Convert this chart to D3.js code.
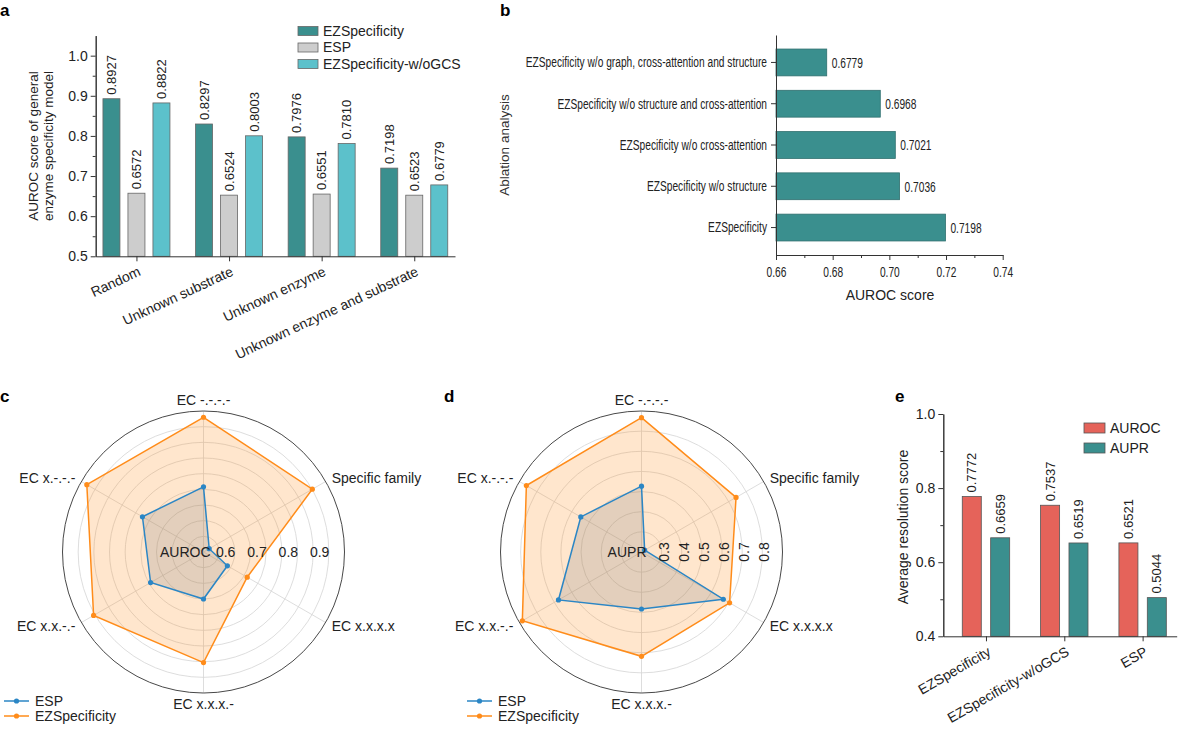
<!DOCTYPE html>
<html>
<head>
<meta charset="utf-8">
<script src="https://cdn.jsdelivr.net/npm/d3@7"></script>
<style>
  body { margin: 0; background: #fff; }
  svg text { font-family: "Liberation Sans", Arial, sans-serif; fill: #222; }
  .axis path, .axis line { stroke: #333; }
</style>
</head>
<body>
<script>
// panel a
const groupsA = ["Random", "Unknown substrate", "Unknown enzyme", "Unknown enzyme and substrate"];
const seriesA = ["EZSpecificity", "ESP", "EZSpecificity-w/oGCS"];
const ezA = [0.8927, 0.8297, 0.7976, 0.7198];
const espA = [0.6572, 0.6524, 0.6551, 0.6523];
const wogcsA = [0.8822, 0.8003, 0.7810, 0.6779];
const ticksA = [0.5, 0.6, 0.7, 0.8, 0.9, 1.0];
const minorA = [0.55, 0.65, 0.75, 0.85, 0.95];

// panel b
const ablationLabels = [
  "EZSpecificity w/o graph, cross-attention and structure",
  "EZSpecificity w/o structure and cross-attention",
  "EZSpecificity w/o cross-attention",
  "EZSpecificity w/o structure",
  "EZSpecificity"
];
const ablationValues = [0.6779, 0.6968, 0.7021, 0.7036, 0.7198];
const ticksB = [0.66, 0.68, 0.70, 0.72, 0.74];
const minorB = [0.67, 0.69, 0.71, 0.73];

// panels c, d
const radarAxes = ["EC -.-.-.-", "Specific family", "EC x.x.x.x", "EC x.x.x.-", "EC x.x.-.-", "EC x.-.-.-"];
const aurocEsp = [0.758, 0.571, 0.638, 0.700, 0.745, 0.775];
const aurocEz = [0.980, 0.951, 0.711, 0.903, 0.955, 0.980];
const auprEsp = [0.527, 0.218, 0.669, 0.483, 0.676, 0.548];
const auprEz = [0.867, 0.742, 0.705, 0.718, 0.883, 0.860];
const aurocGrid = [0.6, 0.65, 0.7, 0.75, 0.8, 0.85, 0.9, 0.95];
const aurocTicks = [0.6, 0.7, 0.8, 0.9];
const auprGrid = [0.3, 0.4, 0.5, 0.6, 0.7, 0.8];
const auprTicks = [0.3, 0.4, 0.5, 0.6, 0.7, 0.8];

// panel e
const groupsE = ["EZSpecificity", "EZSpecificity-w/oGCS", "ESP"];
const seriesE = ["AUROC", "AUPR"];
const aurocE = [0.7772, 0.7537, 0.6521];
const auprE = [0.6659, 0.6519, 0.5044];
const ticksE = [0.4, 0.6, 0.8, 1.0];
const minorE = [0.5, 0.7, 0.9];

const teal = "#3a8f8e", gray = "#cdcdcd", cyan = "#5cc1cb", red = "#e5635a";
const orange = "#ff8c1a", blue = "#2b86c5";
const squeeze = 0.68; // condensed look of panel b text

const svg = d3.select("body").append("svg").attr("width", 1200).attr("height", 735);

function letter(t, x, y) {
  svg.append("text").attr("x", x).attr("y", y).text(t)
    .style("font-weight", "bold").style("font-size", "17px").style("fill", "#000");
}
letter("a", 0, 16); letter("b", 500, 16); letter("c", 0, 402); letter("d", 444, 402); letter("e", 895, 402);

function styleAxis(g, size) {
  g.attr("class", "axis");
  g.selectAll("text").style("font-size", size || "14px").style("fill", "#222");
  g.selectAll("path").attr("stroke-width", 1);
  return g;
}

// ---------- a ----------
var xA = d3.scalePoint().domain(groupsA).range([95.7, 455]).padding(0.44);
var inA = d3.scaleBand().domain(seriesA).range([-37.5, 37.5]).paddingInner(0.32).paddingOuter(0.16);
var yA = d3.scaleLinear().domain([0.5, 1.05]).range([256.3, 35.6]);
var colA = d3.scaleOrdinal().domain(seriesA).range([teal, gray, cyan]);
var valsA = [ezA, espA, wogcsA];
var rowsA = groupsA.flatMap((g, i) => seriesA.map((s, j) => ({g: g, s: s, v: valsA[j][i]})));

var gA = svg.append("g");
gA.selectAll("rect").data(rowsA).enter().append("rect")
  .attr("x", d => xA(d.g) + inA(d.s))
  .attr("width", inA.bandwidth())
  .attr("y", d => yA(d.v))
  .attr("height", d => yA(0.5) - yA(d.v))
  .attr("fill", d => colA(d.s))
  .attr("stroke", "#666").attr("stroke-width", 0.8);

gA.selectAll(".val").data(rowsA).enter().append("text")
  .attr("transform", d => "translate(" + (xA(d.g) + inA(d.s) + inA.bandwidth() / 2) + "," + (yA(d.v) - 4) + ") rotate(-90)")
  .attr("dy", "0.35em").style("font-size", "13px")
  .text(d => d.v.toFixed(4));

styleAxis(gA.append("g").attr("transform", "translate(95.7,0)")
  .call(d3.axisLeft(yA).tickValues(ticksA).tickFormat(d3.format(".1f")).tickSize(5).tickSizeOuter(0)));
styleAxis(gA.append("g").attr("transform", "translate(95.7,0)")
  .call(d3.axisLeft(yA).tickValues(minorA).tickFormat("").tickSize(3).tickSizeOuter(0)));
styleAxis(gA.append("g").attr("transform", "translate(0," + yA(0.5) + ")")
  .call(d3.axisBottom(xA).tickFormat("").tickSize(5).tickSizeOuter(0)));

gA.selectAll(".xl").data(groupsA).enter().append("text")
  .attr("transform", d => "translate(" + (xA(d) + 1) + ",266) rotate(-25)")
  .attr("text-anchor", "end").attr("dy", "0.7em").style("font-size", "14px").text(d => d);

gA.append("text").attr("transform", "translate(38,146) rotate(-90)")
  .attr("text-anchor", "middle").style("font-size", "13.5px").text("AUROC score of general");
gA.append("text").attr("transform", "translate(53,146) rotate(-90)")
  .attr("text-anchor", "middle").style("font-size", "13.5px").text("enzyme specificity model");

var legA = gA.selectAll(".leg").data(seriesA).enter().append("g")
  .attr("transform", (d, i) => "translate(298," + (31 + i * 16.5) + ")");
legA.append("rect").attr("x", 0).attr("y", -4.5).attr("width", 20).attr("height", 9)
  .attr("fill", d => colA(d)).attr("stroke", "#666").attr("stroke-width", 0.8);
legA.append("text").attr("x", 25).attr("dy", "0.35em").style("font-size", "14px").text(d => d);

// ---------- b ----------
var xB = d3.scaleLinear().domain([0.66, 0.74]).range([776, 1002.7]);
var yB = d3.scaleBand().domain(ablationLabels).range([35, 255]).paddingInner(0.35).paddingOuter(0.34);
var gB = svg.append("g");
gB.selectAll("rect").data(ablationValues).enter().append("rect")
  .attr("x", xB(0.66))
  .attr("y", (d, i) => yB(ablationLabels[i]))
  .attr("height", yB.bandwidth())
  .attr("width", d => xB(d) - xB(0.66))
  .attr("fill", teal).attr("stroke", "#2f6f6e").attr("stroke-width", 0.8);
gB.selectAll(".val").data(ablationValues).enter().append("text")
  .attr("transform", (d, i) => "translate(" + (xB(d) + 5) + "," + (yB(ablationLabels[i]) + yB.bandwidth() / 2) + ") scale(" + squeeze + ",1)")
  .attr("dy", "0.35em").style("font-size", "15px").text(d => d.toFixed(4));

var ayB = gB.append("g").attr("transform", "translate(776,0)")
  .call(d3.axisLeft(yB).tickSize(5).tickPadding(4).tickSizeOuter(0));
styleAxis(ayB, "15px");
ayB.selectAll("text").attr("x", -9 / squeeze).attr("transform", "scale(" + squeeze + ",1)");
var axB = gB.append("g").attr("transform", "translate(0,255)")
  .call(d3.axisBottom(xB).tickValues(ticksB).tickFormat(d3.format(".2f")).tickSize(5).tickPadding(6).tickSizeOuter(0));
styleAxis(axB, "15px");
axB.selectAll("text").attr("transform", "scale(" + squeeze + ",1)");
styleAxis(gB.append("g").attr("transform", "translate(0,255)")
  .call(d3.axisBottom(xB).tickValues(minorB).tickFormat("").tickSize(3).tickSizeOuter(0)));
gB.append("text").attr("x", 890).attr("y", 300).attr("text-anchor", "middle")
  .style("font-size", "14px").text("AUROC score");
gB.append("text").attr("transform", "translate(509,145) rotate(-90)").attr("text-anchor", "middle")
  .style("font-size", "13.5px").style("fill", "#333").text("Ablation analysis");

// ---------- c, d ----------
function radar(cx, cy, domain, grid, ticks, esp, ez, name, rotateTicks) {
  var R = 141;
  var r = d3.scaleLinear().domain(domain).range([0, R]);
  var ang = d3.scalePoint().domain(radarAxes).range([0, 2 * Math.PI * 5 / 6]);
  var g = svg.append("g").attr("transform", "translate(" + cx + "," + cy + ")");

  g.selectAll(".grid").data(grid).enter().append("circle")
    .attr("r", d => r(d)).attr("fill", "none").attr("stroke", "#d4d4d4").attr("stroke-width", 0.8);
  g.selectAll(".spoke").data(radarAxes).enter().append("line")
    .attr("x2", d => R * Math.sin(ang(d))).attr("y2", d => -R * Math.cos(ang(d)))
    .attr("stroke", "#d4d4d4").attr("stroke-width", 0.8);
  g.append("circle").attr("r", r(domain[1])).attr("fill", "none").attr("stroke", "#333").attr("stroke-width", 0.9);

  var line = d3.lineRadial().angle((d, i) => ang(radarAxes[i])).radius(d => r(d)).curve(d3.curveLinearClosed);
  g.append("path").attr("d", line(ez)).attr("fill", orange).attr("fill-opacity", 0.22).attr("stroke", "none");
  g.append("path").attr("d", line(esp)).attr("fill", "#7f7f7f").attr("fill-opacity", 0.22).attr("stroke", "none");

  [[ez, orange], [esp, blue]].forEach(function(p) {
    g.append("path").attr("d", line(p[0])).attr("fill", "none").attr("stroke", p[1]).attr("stroke-width", 1.5);
    g.selectAll(null).data(p[0]).enter().append("circle")
      .attr("cx", (d, i) => r(d) * Math.sin(ang(radarAxes[i])))
      .attr("cy", (d, i) => -r(d) * Math.cos(ang(radarAxes[i])))
      .attr("r", 2.6).attr("fill", p[1]);
  });

  if (rotateTicks) {
    g.selectAll(".tk").data(ticks).enter().append("text")
      .attr("transform", d => "translate(" + (r(d) + 2) + ",0) rotate(-90)")
      .attr("text-anchor", "middle").attr("dy", "0.35em").style("font-size", "14px")
      .text(d => d.toFixed(1));
  } else {
    g.selectAll(".tk").data(ticks).enter().append("text")
      .attr("x", d => r(d) + 6.5)
      .attr("text-anchor", "middle").attr("dy", "0.35em").style("font-size", "14px")
      .text(d => d.toFixed(1));
  }
  g.append("text").attr("x", rotateTicks ? 5 : 7).attr("text-anchor", "end").attr("dy", "0.35em")
    .style("font-size", "14px").text(name);

  g.selectAll(".al").data(radarAxes).enter().append("text")
    .attr("x", d => {
      var a = ang(d), s = Math.sin(a);
      return (Math.abs(s) < 0.01 ? 0 : 148 * s);
    })
    .attr("y", d => {
      var a = ang(d), c = Math.cos(a);
      return Math.abs(Math.sin(a)) < 0.01 ? -152 * c : -148 * c;
    })
    .attr("text-anchor", d => {
      var s = Math.sin(ang(d));
      return Math.abs(s) < 0.01 ? "middle" : (s > 0 ? "start" : "end");
    })
    .attr("dy", "0.35em").style("font-size", "14px").text(d => d);
  return g;
}
radar(203.5, 552, [0.55, 1.0], aurocGrid, aurocTicks, aurocEsp, aurocEz, "AUROC", false);
radar(641.5, 552, [0.2, 0.9], auprGrid, auprTicks, auprEsp, auprEz, "AUPR", true);

function radarLegend(x) {
  var lg = svg.selectAll(null).data([["ESP", blue], ["EZSpecificity", orange]]).enter().append("g")
    .attr("transform", (d, i) => "translate(" + x + "," + (701 + i * 15) + ")");
  lg.append("line").attr("x1", 0).attr("x2", 25).attr("stroke", d => d[1]).attr("stroke-width", 1.5);
  lg.append("circle").attr("cx", 12.5).attr("r", 2.6).attr("fill", d => d[1]);
  lg.append("text").attr("x", 31).attr("dy", "0.35em").style("font-size", "14px").text(d => d[0]);
}
radarLegend(4);
radarLegend(467);

// ---------- e ----------
var xE = d3.scalePoint().domain(groupsE).range([943.3, 1176.7]).padding(0.49).align(0.556);
var inE = d3.scaleBand().domain(seriesE).range([-23.7, 23.7]).paddingInner(0.33);
var yE = d3.scaleLinear().domain([0.4, 1.0]).range([636.3, 414]);
var colE = d3.scaleOrdinal().domain(seriesE).range([red, teal]);
var valsE = [aurocE, auprE];
var rowsE = groupsE.flatMap((g, i) => seriesE.map((s, j) => ({g: g, s: s, v: valsE[j][i]})));
var gE = svg.append("g");
gE.selectAll("rect").data(rowsE).enter().append("rect")
  .attr("x", d => xE(d.g) + inE(d.s))
  .attr("width", inE.bandwidth())
  .attr("y", d => yE(d.v))
  .attr("height", d => yE(0.4) - yE(d.v))
  .attr("fill", d => colE(d.s)).attr("stroke", "#555").attr("stroke-width", 0.8);
gE.selectAll(".val").data(rowsE).enter().append("text")
  .attr("transform", d => "translate(" + (xE(d.g) + inE(d.s) + inE.bandwidth() / 2) + "," + (yE(d.v) - 4) + ") rotate(-90)")
  .attr("dy", "0.35em").style("font-size", "13px").text(d => d.v.toFixed(4));
styleAxis(gE.append("g").attr("transform", "translate(943.3,0)")
  .call(d3.axisLeft(yE).tickValues(ticksE).tickFormat(d3.format(".1f")).tickSize(5).tickSizeOuter(0)));
styleAxis(gE.append("g").attr("transform", "translate(943.3,0)")
  .call(d3.axisLeft(yE).tickValues(minorE).tickFormat("").tickSize(3).tickSizeOuter(0)));
styleAxis(gE.append("g").attr("transform", "translate(0," + yE(0.4) + ")")
  .call(d3.axisBottom(xE).tickFormat("").tickSize(5).tickSizeOuter(0)));
gE.selectAll(".xl").data(groupsE).enter().append("text")
  .attr("transform", d => "translate(" + (xE(d) + 1) + ",646) rotate(-30)")
  .attr("text-anchor", "end").attr("dy", "0.7em").style("font-size", "14px").text(d => d);
gE.append("text").attr("transform", "translate(908,527) rotate(-90)").attr("text-anchor", "middle")
  .style("font-size", "14px").text("Average resolution score");
var legE = gE.selectAll(".leg").data(seriesE).enter().append("g")
  .attr("transform", (d, i) => "translate(1084," + (428 + i * 20) + ")");
legE.append("rect").attr("y", -5).attr("width", 21).attr("height", 10)
  .attr("fill", d => colE(d)).attr("stroke", "#555").attr("stroke-width", 0.8);
legE.append("text").attr("x", 26).attr("dy", "0.35em").style("font-size", "14px").text(d => d);
</script>
</body>
</html>
